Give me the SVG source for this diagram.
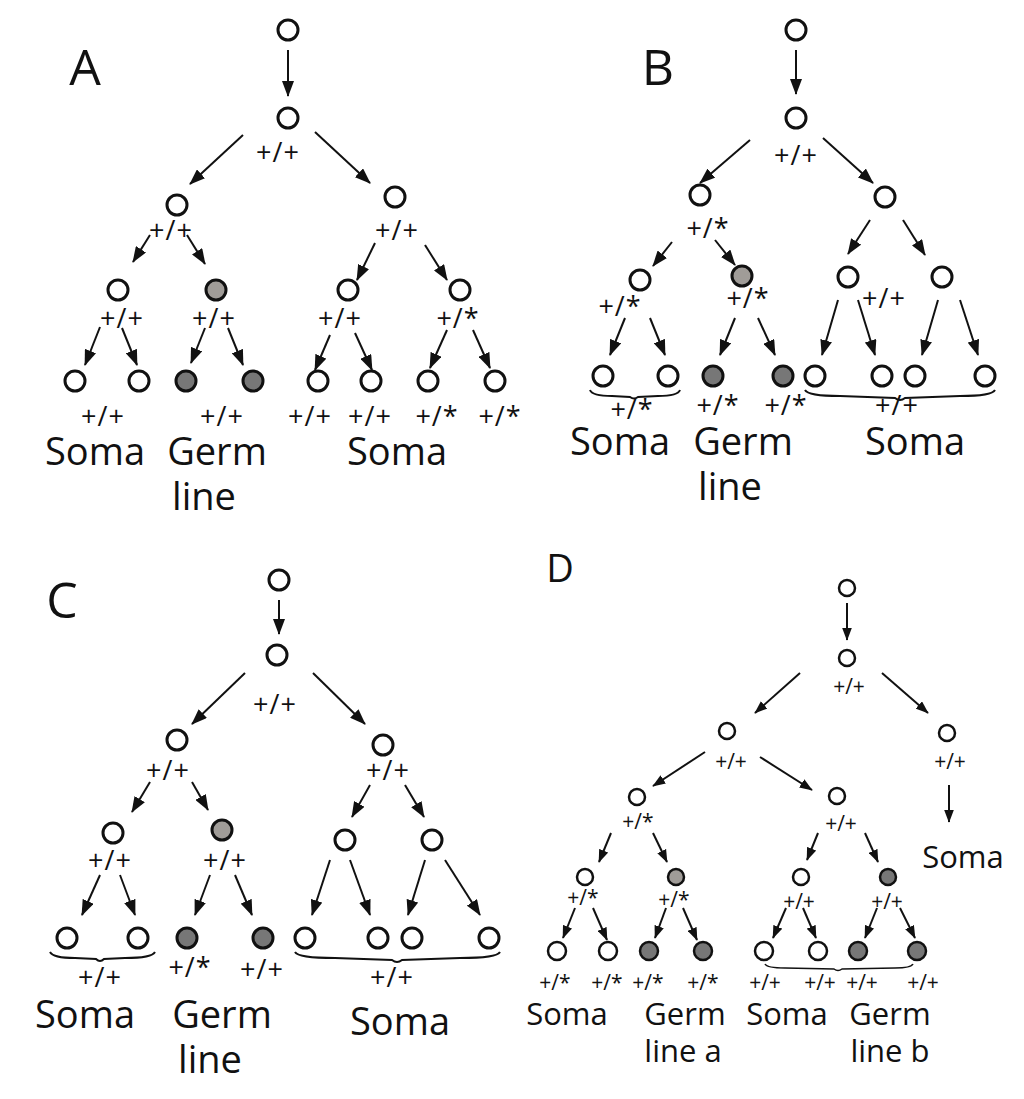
<svg xmlns="http://www.w3.org/2000/svg" width="1024" height="1099" viewBox="0 0 1024 1099">
<defs>
<marker id="ah" viewBox="0 0 16 12" refX="15" refY="6" markerWidth="16" markerHeight="12" markerUnits="userSpaceOnUse" orient="auto"><path d="M0,0 L16,6 L0,12 z" fill="#111"/></marker>
<marker id="as" viewBox="0 0 16 12" refX="15" refY="6" markerWidth="13" markerHeight="10" markerUnits="userSpaceOnUse" orient="auto"><path d="M0,0 L16,6 L0,12 z" fill="#111"/></marker>
</defs>
<style>
text{font-family:"Open Sans","Liberation Sans",sans-serif;fill:#111;text-anchor:middle}
.g{font-size:27px;letter-spacing:1px}.gs{font-size:21px}.L{font-size:38px}.Ls{font-size:31px}.P{font-size:50px}
circle{stroke:#111;stroke-width:3;fill:#fff}
.s circle{stroke-width:2.5}
.l{fill:#a09c98}.d{fill:#777}
line{stroke:#111;stroke-width:2;marker-end:url(#ah)}
.s line{marker-end:url(#as)}
path.b{fill:none;stroke:#111;stroke-width:2}
</style>
<rect width="1024" height="1099" fill="#fff"/>
<g id="panelA">
<text class="P" x="85" y="85">A</text>
<g id="connA">
<line x1="288" y1="50" x2="288" y2="96"/><line x1="243" y1="135" x2="190" y2="184"/><line x1="315" y1="132" x2="370" y2="183"/>
<line x1="150" y1="235" x2="133" y2="262"/><line x1="187" y1="235" x2="205" y2="264"/><line x1="375" y1="243" x2="357" y2="280"/><line x1="425" y1="245" x2="447" y2="280"/>
<line x1="100" y1="327" x2="85" y2="365"/><line x1="122" y1="328" x2="137" y2="365"/><line x1="205" y1="328" x2="191" y2="363"/><line x1="228" y1="328" x2="243" y2="365"/>
<line x1="330" y1="335" x2="315" y2="370"/><line x1="355" y1="333" x2="372" y2="370"/><line x1="447" y1="330" x2="430" y2="368"/><line x1="473" y1="330" x2="490" y2="368"/>
</g>
<g id="nodesA">
<circle cx="288" cy="30" r="10"/><circle cx="288" cy="118" r="10"/><circle cx="177" cy="205" r="10"/><circle cx="395" cy="197" r="10"/>
<circle cx="118" cy="290" r="10"/><circle class="l" cx="216" cy="290" r="10"/><circle cx="348" cy="290" r="10"/><circle cx="460" cy="290" r="10"/>
<circle cx="75" cy="381" r="10"/><circle cx="139" cy="381" r="10"/><circle class="d" cx="186" cy="381" r="10"/><circle class="d" cx="253" cy="381" r="10"/>
<circle cx="318" cy="381" r="10"/><circle cx="371" cy="381" r="10"/><circle cx="428" cy="381" r="10"/><circle cx="495" cy="381" r="10"/>
</g>
<g id="labelsA">
<text class="g" x="278" y="162">+/+</text><text class="g" x="171" y="240">+/+</text><text class="g" x="397" y="240">+/+</text>
<text class="g" x="122" y="328">+/+</text><text class="g" x="214" y="328">+/+</text><text class="g" x="340" y="328">+/+</text><text class="g" x="458" y="328">+/*</text>
<text class="g" x="103" y="426">+/+</text><text class="g" x="222" y="426">+/+</text><text class="g" x="310" y="426">+/+</text><text class="g" x="370" y="426">+/+</text><text class="g" x="437" y="426">+/*</text><text class="g" x="500" y="426">+/*</text>
<text class="L" x="95" y="465">Soma</text><text class="L" x="217" y="465">Germ</text><text class="L" x="204" y="510">line</text><text class="L" x="397" y="465">Soma</text>
</g>
</g>
<g id="panelB">
<text class="P" x="658" y="85">B</text>
<g id="connB">
<line x1="796" y1="50" x2="796" y2="94"/><line x1="750" y1="140" x2="700" y2="183"/><line x1="823" y1="138" x2="873" y2="183"/>
<line x1="672" y1="242" x2="653" y2="266"/><line x1="715" y1="240" x2="735" y2="265"/><line x1="870" y1="220" x2="848" y2="254"/><line x1="903" y1="220" x2="925" y2="255"/>
<line x1="625" y1="318" x2="610" y2="355"/><line x1="650" y1="318" x2="665" y2="355"/><line x1="735" y1="318" x2="720" y2="355"/><line x1="758" y1="318" x2="775" y2="355"/>
<line x1="838" y1="300" x2="822" y2="355"/><line x1="858" y1="300" x2="875" y2="355"/><line x1="938" y1="300" x2="922" y2="355"/><line x1="960" y1="300" x2="978" y2="355"/>
</g>
<g id="nodesB">
<circle cx="796" cy="30" r="10"/><circle cx="796" cy="118" r="10"/><circle cx="700" cy="195" r="10"/><circle cx="885" cy="197" r="10"/>
<circle cx="640" cy="280" r="10"/><circle class="l" cx="742" cy="276" r="10"/><circle cx="848" cy="277" r="10"/><circle cx="942" cy="277" r="10"/>
<circle cx="603" cy="376" r="10"/><circle cx="668" cy="376" r="10"/><circle class="d" cx="713" cy="376" r="10"/><circle class="d" cx="783" cy="376" r="10"/>
<circle cx="815" cy="376" r="10"/><circle cx="882" cy="376" r="10"/><circle cx="915" cy="376" r="10"/><circle cx="985" cy="376" r="10"/>
</g>
<path class="b" d="M590,390 Q592,396 612,396 L630,397 Q634,400 638,397 L658,396 Q678,396 680,390"/>
<path class="b" d="M805,390 Q808,396 840,396 L895,398 Q900,402 905,398 L960,396 Q992,396 995,390"/>
<g id="labelsB">
<text class="g" x="796" y="165">+/+</text><text class="g" x="708" y="238">+/*</text><text class="g" x="884" y="308">+/+</text>
<text class="g" x="620" y="316">+/*</text><text class="g" x="748" y="308">+/*</text>
<text class="g" x="632" y="419">+/*</text><text class="g" x="718" y="415">+/*</text><text class="g" x="786" y="415">+/*</text><text class="g" x="897" y="415">+/+</text>
<text class="L" x="620" y="455">Soma</text><text class="L" x="743" y="455">Germ</text><text class="L" x="730" y="500">line</text><text class="L" x="915" y="455">Soma</text>
</g>
</g>
<g id="panelC">
<text class="P" x="62" y="618">C</text>
<g id="connC">
<line x1="279" y1="600" x2="279" y2="634"/><line x1="245" y1="673" x2="192" y2="724"/><line x1="313" y1="673" x2="365" y2="724"/>
<line x1="150" y1="782" x2="132" y2="812"/><line x1="192" y1="782" x2="208" y2="810"/><line x1="370" y1="785" x2="352" y2="817"/><line x1="405" y1="785" x2="424" y2="817"/>
<line x1="100" y1="875" x2="82" y2="915"/><line x1="120" y1="875" x2="135" y2="915"/><line x1="210" y1="875" x2="195" y2="915"/><line x1="235" y1="875" x2="252" y2="915"/>
<line x1="330" y1="860" x2="312" y2="915"/><line x1="350" y1="860" x2="370" y2="915"/><line x1="425" y1="860" x2="408" y2="915"/><line x1="445" y1="860" x2="480" y2="915"/>
</g>
<g id="nodesC">
<circle cx="279" cy="580" r="10"/><circle cx="277" cy="655" r="10"/><circle cx="177" cy="740" r="10"/><circle cx="383" cy="745" r="10"/>
<circle cx="113" cy="833" r="10"/><circle class="l" cx="222" cy="830" r="10"/><circle cx="345" cy="840" r="10"/><circle cx="432" cy="840" r="10"/>
<circle cx="67" cy="938" r="10"/><circle cx="138" cy="938" r="10"/><circle class="d" cx="187" cy="938" r="10"/><circle class="d" cx="263" cy="938" r="10"/>
<circle cx="305" cy="938" r="10"/><circle cx="378" cy="938" r="10"/><circle cx="412" cy="938" r="10"/><circle cx="489" cy="938" r="10"/>
</g>
<path class="b" d="M50,952 Q53,958 75,958 L96,959 Q100,963 104,959 L125,958 Q152,958 155,952"/>
<path class="b" d="M295,952 Q298,958 335,958 L392,960 Q397,964 402,960 L460,958 Q497,958 500,952"/>
<g id="labelsC">
<text class="g" x="275" y="714">+/+</text><text class="g" x="168" y="780">+/+</text><text class="g" x="388" y="780">+/+</text>
<text class="g" x="110" y="870">+/+</text><text class="g" x="225" y="870">+/+</text>
<text class="g" x="100" y="987">+/+</text><text class="g" x="190" y="977">+/*</text><text class="g" x="262" y="979">+/+</text><text class="g" x="392" y="987">+/+</text>
<text class="L" x="85" y="1028">Soma</text><text class="L" x="222" y="1028">Germ</text><text class="L" x="210" y="1073">line</text><text class="L" x="400" y="1035">Soma</text>
</g>
</g>
<g id="panelD" class="s">
<text x="560" y="582" style="font-size:38px">D</text>
<g id="connD">
<line x1="847" y1="603" x2="847" y2="640"/><line x1="800" y1="673" x2="755" y2="713"/><line x1="882" y1="673" x2="928" y2="713"/><line x1="949" y1="785" x2="949" y2="822"/>
<line x1="705" y1="752" x2="653" y2="786"/><line x1="760" y1="757" x2="812" y2="790"/>
<line x1="611" y1="833" x2="599" y2="862"/><line x1="653" y1="833" x2="667" y2="862"/><line x1="818" y1="833" x2="807" y2="860"/><line x1="865" y1="833" x2="878" y2="862"/>
<line x1="575" y1="908" x2="563" y2="938"/><line x1="593" y1="908" x2="607" y2="940"/><line x1="666" y1="908" x2="655" y2="938"/><line x1="683" y1="908" x2="697" y2="940"/>
<line x1="786" y1="908" x2="773" y2="938"/><line x1="803" y1="908" x2="816" y2="938"/><line x1="877" y1="908" x2="865" y2="938"/><line x1="900" y1="908" x2="915" y2="938"/>
</g>
<g id="nodesD">
<circle cx="847" cy="588" r="8"/><circle cx="847" cy="658" r="8"/><circle cx="727" cy="731" r="8"/><circle cx="947" cy="733" r="8"/>
<circle cx="637" cy="797" r="8"/><circle cx="837" cy="796" r="8"/>
<circle cx="585" cy="877" r="8"/><circle class="l" cx="676" cy="877" r="8"/><circle cx="801" cy="877" r="8"/><circle class="d" cx="888" cy="877" r="8"/>
<circle cx="557" cy="951" r="9"/><circle cx="608" cy="951" r="9"/><circle class="d" cx="649" cy="951" r="9"/><circle class="d" cx="703" cy="951" r="9"/>
<circle cx="764" cy="951" r="9"/><circle cx="818" cy="951" r="9"/><circle class="d" cx="858" cy="951" r="9"/><circle class="d" cx="917" cy="951" r="9"/>
</g>
<path class="b" style="stroke-width:1.5" d="M765,964 Q767,968 785,968 L834,969 Q838,972 842,969 L895,968 Q911,968 913,964"/>
<g id="labelsD">
<text class="gs" x="849" y="694">+/+</text><text class="gs" x="731" y="769">+/+</text><text class="gs" x="950" y="769">+/+</text><text class="Ls" x="963" y="868">Soma</text>
<text class="gs" x="638" y="829">+/*</text><text class="gs" x="841" y="831">+/+</text>
<text class="gs" x="583" y="905">+/*</text><text class="gs" x="674" y="907">+/*</text><text class="gs" x="799" y="909">+/+</text><text class="gs" x="887" y="909">+/+</text>
<text class="gs" x="555" y="990">+/*</text><text class="gs" x="607" y="990">+/*</text><text class="gs" x="648" y="990">+/*</text><text class="gs" x="703" y="990">+/*</text>
<text class="gs" x="765" y="990">+/+</text><text class="gs" x="820" y="990">+/+</text><text class="gs" x="862" y="990">+/+</text><text class="gs" x="923" y="990">+/+</text>
<text class="Ls" x="567" y="1025">Soma</text><text class="Ls" x="685" y="1025">Germ</text><text class="Ls" x="787" y="1025">Soma</text><text class="Ls" x="890" y="1025">Germ</text>
<text class="Ls" x="683" y="1062">line a</text><text class="Ls" x="890" y="1062">line b</text>
</g>
</g>
</svg>
